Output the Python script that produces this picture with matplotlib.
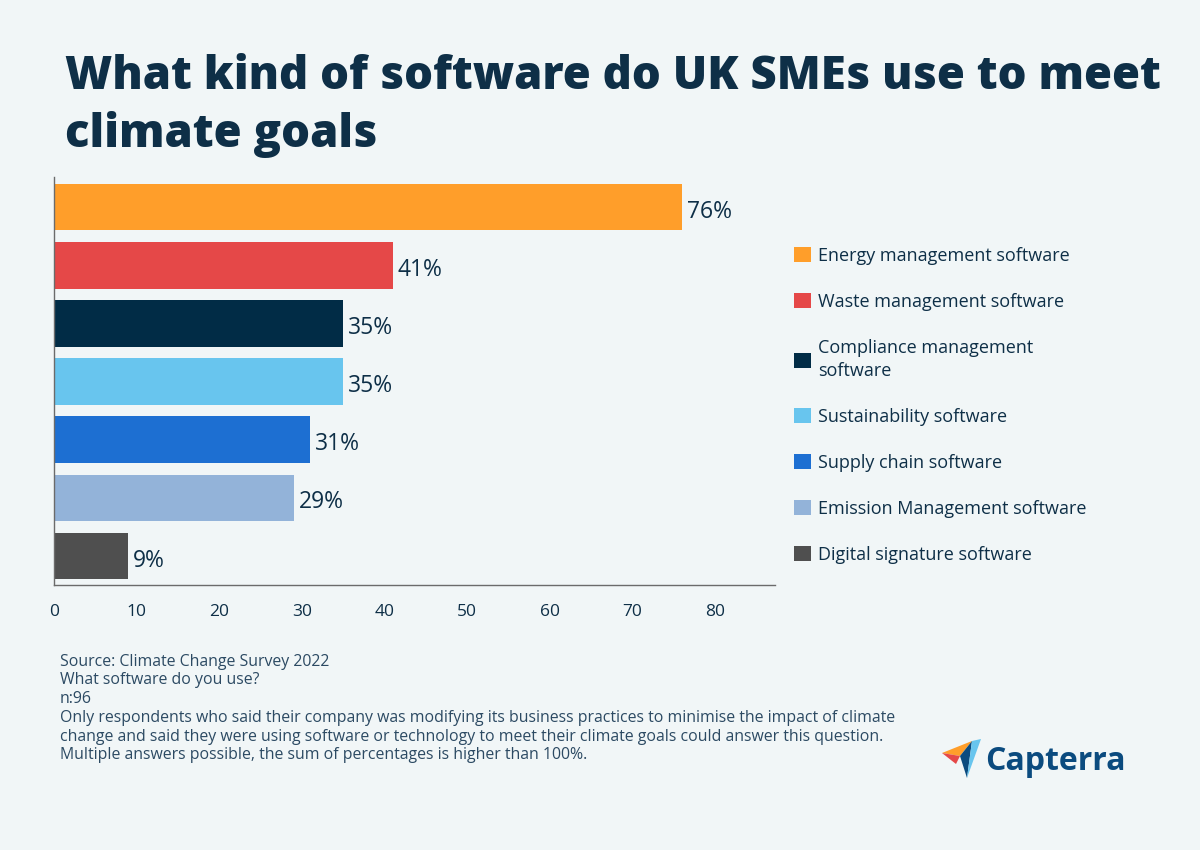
import matplotlib.pyplot as plt
from matplotlib.patches import Patch, Polygon

categories = ['Energy management software', 'Waste management software',
              'Compliance management\nsoftware', 'Sustainability software',
              'Supply chain software', 'Emission Management software',
              'Digital signature software']
values = [76, 41, 35, 35, 31, 29, 9]
colors = ['#FF9E2A', '#E54848', '#012C46', '#68C5EE', '#1D6FD2', '#93B3D9', '#4F4F4F']
xticks = [0, 10, 20, 30, 40, 50, 60, 70, 80]

bg = '#F1F6F7'
navy = '#0E2F47'
plt.rcParams['font.family'] = ['Open Sans', 'DejaVu Sans']

fig = plt.figure(figsize=(12, 8.5), dpi=100, facecolor=bg)
ax = fig.add_axes([0.045, 0.3118, 0.601, 0.48])
ax.set_facecolor(bg)

pos = list(range(len(values)))
ax.barh(pos, values, height=0.8, color=colors)
for p, v in zip(pos, values):
    ax.text(v + 0.6, p + 0.08, f'{v}%', va='center', ha='left', fontsize=16.5, color=navy)

ax.set_ylim(6.5, -0.52)
ax.set_xlim(0, 87.3)
ax.set_yticks([])
ax.set_xticks(xticks)
ax.tick_params(axis='x', length=0, pad=14, labelsize=12.5, labelcolor=navy)
for s in ['top', 'right']:
    ax.spines[s].set_visible(False)
for s in ['left', 'bottom']:
    ax.spines[s].set_color('#6b6b6b')
    ax.spines[s].set_linewidth(1)

# legend
handles = [Patch(facecolor=c, edgecolor='none') for c in colors]
leg = fig.legend(handles, categories, loc='upper left', bbox_to_anchor=(0.656, 0.718),
                 frameon=False, fontsize=13, handlelength=0.9, handleheight=0.9,
                 handletextpad=0.4, labelspacing=1.55, borderaxespad=0)
for t in leg.get_texts():
    t.set_color(navy)
    t.set_linespacing(1.35)

# title
fig.text(0.054, 0.937, 'What kind of software do UK SMEs use to meet\nclimate goals',
         fontsize=32.8, fontweight=800, color=navy, va='top', ha='left', linespacing=1.32)

# footnote
note = ('Source: Climate Change Survey 2022\n'
        'What software do you use?\n'
        'n:96\n'
        'Only respondents who said their company was modifying its business practices to minimise the impact of climate\n'
        'change and said they were using software or technology to meet their climate goals could answer this question.\n'
        'Multiple answers possible, the sum of percentages is higher than 100%.')
fig.text(0.05, 0.231, note, fontsize=11.4, color='#2C4A63', va='top', ha='left', linespacing=1.23)

# Capterra logo
def fpt(x, y):
    return (x / 1200, 1 - y / 850)

tris = [
    ([(942, 753), (972, 741), (960, 756)], '#FF9E2A'),
    ([(942, 753), (960, 756), (956, 764)], '#E54848'),
    ([(960, 756), (972, 741), (967, 778)], '#0B4B7F'),
    ([(972, 741), (981, 739), (967, 778)], '#68C5EE'),
]
for pts, c in tris:
    fig.patches.append(Polygon([fpt(*p) for p in pts], closed=True, facecolor=c,
                               edgecolor='none', transform=fig.transFigure))
fig.text(985 / 1200, 1 - 761 / 850, 'Capterra', fontsize=23, fontweight='bold',
         color='#0B4B7F', va='center', ha='left')

fig.savefig('out.png', dpi=100, facecolor=bg)
